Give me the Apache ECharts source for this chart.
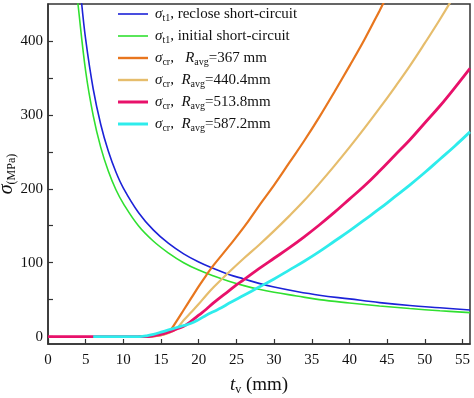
<!DOCTYPE html>
<html>
<head>
<meta charset="utf-8">
<script src="https://cdn.jsdelivr.net/npm/echarts@6/dist/echarts.min.js"></script>
<style>
html,body{margin:0;padding:0;background:#fff;}
#main{width:474px;height:398px;}
</style>
</head>
<body>
<div id="main"></div>
<script>
// values (t_v in mm, sigma in MPa)
var tReclose = [4.4, 5, 6, 7, 8, 9, 10, 12, 14, 16, 18, 20, 22, 24, 26, 28, 30, 33, 36, 40, 44, 48, 52, 56];
var sReclose = [458, 402, 335, 287, 251, 223, 201, 168, 144, 126, 112, 101, 92, 84, 78, 72, 67, 61, 56, 51, 46, 42, 39, 36];

var tInitial = [3.9, 4, 5, 6, 7, 8, 9, 10, 12, 14, 16, 18, 20, 22, 24, 26, 28, 30, 33, 36, 40, 44, 48, 52, 56];
var sInitial = [460, 448, 359, 299, 256, 224, 199, 180, 150, 129, 113, 100, 90, 82, 75, 69, 64, 60, 55, 50, 45.5, 41.5, 38, 35, 32.5];

var tR367 = [12, 13, 14, 15, 16, 17, 18, 19, 20, 21, 22, 24, 26, 28, 30, 32, 34, 36, 38, 40, 42, 44, 45];
var sR367 = [0, 0, 0.5, 2, 6, 20, 36, 52, 68, 83, 97, 122, 148, 177, 205, 235, 265, 297, 331, 366, 402, 441, 461];

var tR440 = [12, 13, 14, 15, 16, 17, 18, 19, 20, 21, 22, 24, 26, 28, 30, 32, 34, 36, 38, 40, 42, 44, 46, 48, 50, 52, 54];
var sR440 = [0, 0, 0.5, 2, 5, 10, 22, 33, 44, 56, 67, 87, 106, 124, 143, 163, 184, 207, 231, 256, 282, 309, 337, 366, 397, 429, 463];

var tR513 = [0, 6, 12, 13, 14, 15, 16, 17, 18, 19, 20, 21, 22, 24, 25, 26, 28, 30, 32, 34, 36, 38, 40, 42, 44, 46, 48, 50, 52, 54, 56];
var sR513 = [0, 0, 0, 0, 1, 3, 6, 10, 14, 21, 29, 37, 46, 62, 70, 77, 92, 106, 120, 135, 151, 168, 186, 204, 224, 245, 266, 289, 312, 337, 363];

var tR587 = [6, 9, 12, 12.5, 13, 14, 15, 16, 17, 18, 19, 20, 21, 22, 23, 24, 26, 28, 30, 32, 34, 36, 38, 40, 42, 44, 46, 48, 50, 52, 54, 56];
var sR587 = [0, 0, 0, 0.3, 1, 3, 6, 9, 12, 15, 18, 23, 29, 34, 39, 45, 56, 67, 78, 90, 102, 115, 129, 143, 158, 173, 189, 205, 222, 240, 258, 277];

var xTicks = [0, 5, 10, 15, 20, 25, 30, 35, 40, 45, 50, 55];
var yTicks = [0, 50, 100, 150, 200, 250, 300, 350, 400];
var yLabels = [0, 100, 200, 300, 400];

var seriesNames = ['reclose', 'initial', 'r367', 'r440', 'r513', 'r587'];
var legendText = {
  reclose: '{i|σ}{sub|t1}{n|, reclose short-circuit}',
  initial: '{i|σ}{sub|t1}{n|, initial short-circuit}',
  r367: '{i|σ}{sub|cr}{n|,   }{i|R}{sub|avg}{n|=367 mm}',
  r440: '{i|σ}{sub|cr}{n|,  }{i|R}{sub|avg}{n|=440.4mm}',
  r513: '{i|σ}{sub|cr}{n|,  }{i|R}{sub|avg}{n|=513.8mm}',
  r587: '{i|σ}{sub|cr}{n|,  }{i|R}{sub|avg}{n|=587.2mm}'
};

function pairs(xs, ys) {
  var out = [];
  for (var i = 0; i < xs.length; i++) out.push([xs[i], ys[i]]);
  return out;
}

var font = 'Liberation Serif';
var axisColor = '#333';

var chart = echarts.init(document.getElementById('main'), null, {renderer: 'canvas'});

function line(name, xs, ys, color, width) {
  return {
    name: name,
    type: 'line',
    data: pairs(xs, ys),
    symbol: 'none',
    showSymbol: false,
    smooth: 0.4,
    clip: true,
    lineStyle: {color: color, width: width},
    itemStyle: {color: color},
    emphasis: {disabled: true},
    animation: false
  };
}

// flat bar icon so the legend shows only a line
function bar(h) {
  return 'path://M0,0h30v' + h + 'h-30z';
}

var option = {
  backgroundColor: '#fff',
  animation: false,
  grid: {
    left: 48, right: 4, top: 4, bottom: 54,
    containLabel: false, outerBoundsMode: 'none',
    show: true, borderColor: axisColor, borderWidth: 1.5
  },
  legend: {
    orient: 'vertical',
    left: 118, top: 5, padding: 0,
    itemWidth: 30, itemHeight: 14, itemGap: 4,
    data: [
      {name: 'reclose', icon: bar(1.6)},
      {name: 'initial', icon: bar(1.6)},
      {name: 'r367', icon: bar(2.4)},
      {name: 'r440', icon: bar(2.4)},
      {name: 'r513', icon: bar(3)},
      {name: 'r587', icon: bar(3)}
    ],
    formatter: function (n) { return legendText[n]; },
    textStyle: {
      fontFamily: font, color: '#111', padding: [0, 0, 0, 2],
      rich: {
        i: {fontFamily: font, fontStyle: 'italic', fontSize: 15, lineHeight: 20, color: '#111'},
        n: {fontFamily: font, fontSize: 15, lineHeight: 20, color: '#111'},
        sub: {fontFamily: font, fontSize: 10, lineHeight: 12, padding: [8, 0, 0, 0], color: '#111'}
      }
    }
  },
  xAxis: {
    type: 'value', min: 0, max: 56,
    name: '{i|t}{sub|v}{n| (mm)}',
    nameLocation: 'middle', nameGap: 29, nameMoveOverlap: false,
    nameTextStyle: {
      rich: {
        i: {fontFamily: font, fontStyle: 'italic', fontSize: 19, lineHeight: 24, color: '#111'},
        n: {fontFamily: font, fontSize: 19, lineHeight: 24, color: '#111'},
        sub: {fontFamily: font, fontSize: 12, lineHeight: 14, padding: [10, 0, 0, 0], color: '#111'}
      }
    },
    axisLine: {show: true, onZero: false, lineStyle: {color: axisColor, width: 1.5}},
    axisTick: {show: true, inside: true, length: 5, customValues: xTicks, lineStyle: {color: axisColor, width: 1.2}},
    axisLabel: {customValues: xTicks, fontFamily: font, fontSize: 15, color: '#111', margin: 9},
    splitLine: {show: false}
  },
  yAxis: {
    type: 'value', min: -10, max: 450,
    name: '{i|σ}{sub|(MPa)}',
    nameLocation: 'middle', nameGap: 29, nameRotate: 90, nameMoveOverlap: false,
    nameTextStyle: {
      rich: {
        i: {fontFamily: font, fontStyle: 'italic', fontSize: 20, lineHeight: 24, color: '#111'},
        sub: {fontFamily: font, fontSize: 12, lineHeight: 14, padding: [10, 0, 0, 0], color: '#111'}
      }
    },
    axisLine: {show: true, onZero: false, lineStyle: {color: axisColor, width: 1.5}},
    axisTick: {show: true, inside: true, length: 5, customValues: yTicks, lineStyle: {color: axisColor, width: 1.2}},
    axisLabel: {customValues: yLabels, fontFamily: font, fontSize: 15, color: '#111', margin: 5},
    splitLine: {show: false}
  },
  series: [
    line('reclose', tReclose, sReclose, '#1c22d8', 1.6),
    line('initial', tInitial, sInitial, '#30e030', 1.6),
    line('r367', tR367, sR367, '#e8761e', 2.2),
    line('r440', tR440, sR440, '#e6bd6c', 2.2),
    line('r513', tR513, sR513, '#e8116a', 2.8),
    line('r587', tR587, sR587, '#2eecec', 2.8)
  ]
};

chart.setOption(option);
</script>
</body>
</html>
